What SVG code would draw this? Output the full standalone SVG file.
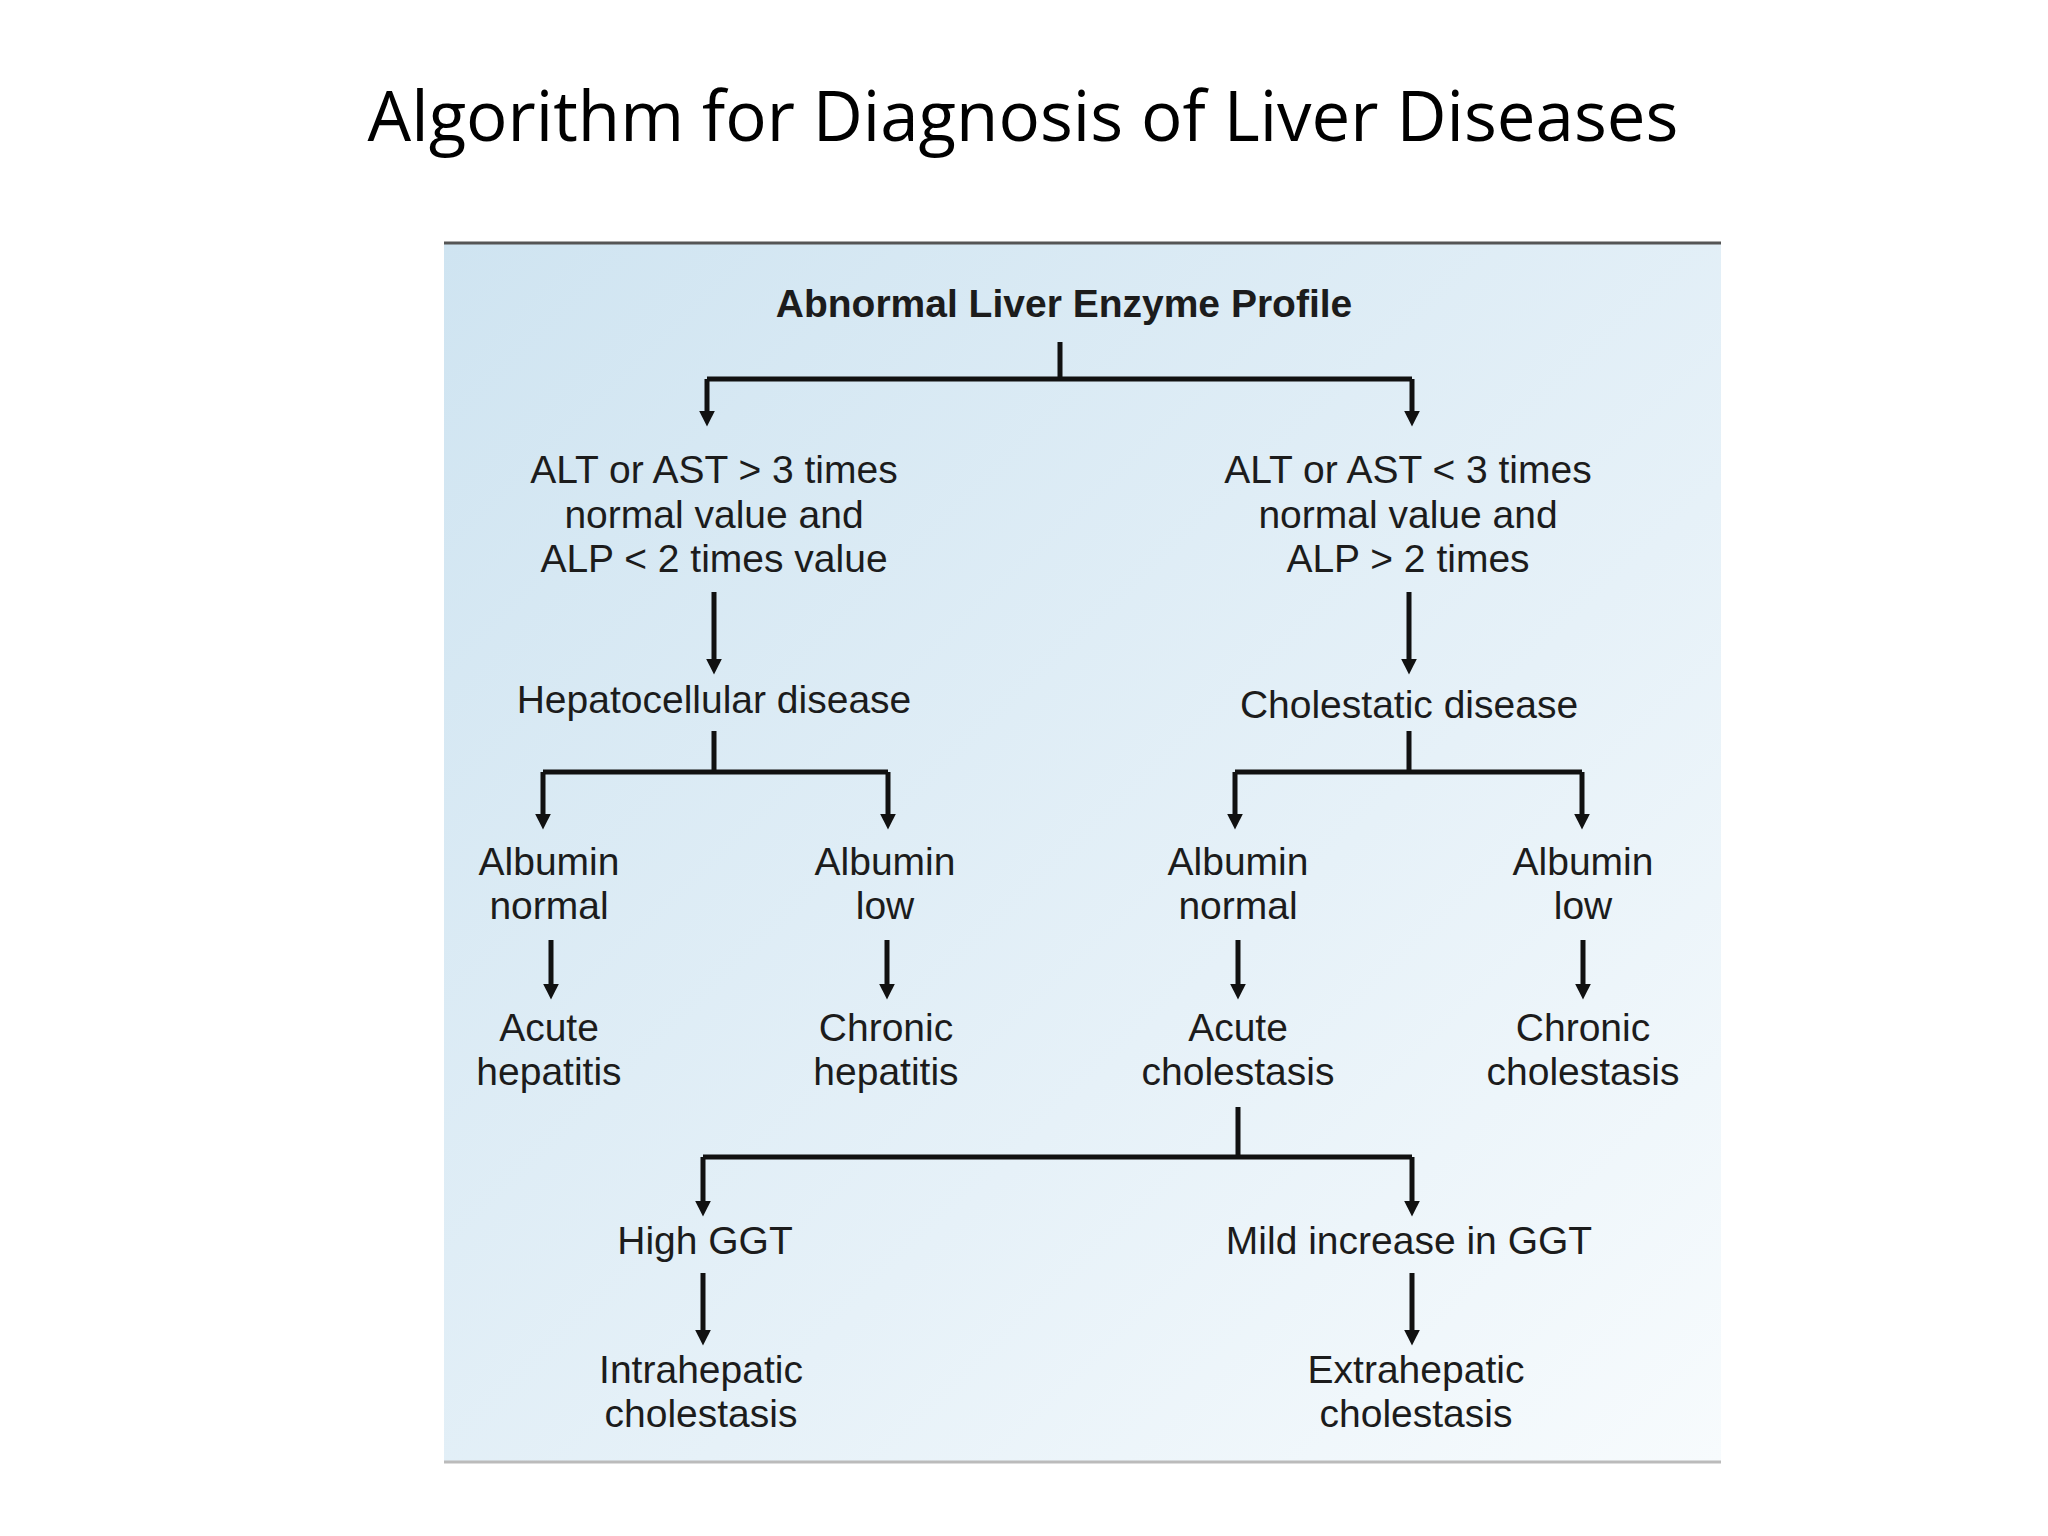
<svg xmlns="http://www.w3.org/2000/svg" width="2048" height="1536" viewBox="0 0 2048 1536">
<style>
.t{font-family:"Liberation Sans",Arial,sans-serif;font-size:39px;fill:#1c1c1c;text-anchor:middle}
.c{stroke:#111;stroke-width:5;fill:none}
.a{stroke:#111;stroke-width:5;fill:none;marker-end:url(#ah)}
</style>
<defs>
<linearGradient id="bg" x1="0" y1="0" x2="1" y2="1">
<stop offset="0" stop-color="#cfe4f1"/><stop offset="0.6" stop-color="#e6f1f8"/><stop offset="1" stop-color="#f7fbfd"/>
</linearGradient>
<marker id="ah" markerWidth="3.2" markerHeight="3.2" refX="2" refY="2.5" orient="auto" markerUnits="strokeWidth" viewBox="0 0 5 5">
<path d="M0,0 L5,2.5 L0,5 z" fill="#111"/>
</marker>
</defs>
<rect width="2048" height="1536" fill="#fff"/>
<text x="1023" y="141" font-family="'Open Sans','Liberation Sans',sans-serif" font-size="69" fill="#000" text-anchor="middle">Algorithm for Diagnosis of Liver Diseases</text>
<rect x="444" y="243" width="1277" height="1220" fill="url(#bg)"/>
<line x1="444" y1="243" x2="1721" y2="243" stroke="#555" stroke-width="3"/>
<line x1="444" y1="1462" x2="1721" y2="1462" stroke="#bbb" stroke-width="3"/>
<g id="connectors">
<path class="c" d="M1060,342V379M707,379H1412"/>
<path class="a" d="M707,379V417"/><path class="a" d="M1412,379V417"/>
<path class="a" d="M714,592V665"/><path class="a" d="M1409,592V665"/>
<path class="c" d="M714,731V772M543,772H888"/>
<path class="a" d="M543,772V820"/><path class="a" d="M888,772V820"/>
<path class="c" d="M1409,731V772M1235,772H1582"/>
<path class="a" d="M1235,772V820"/><path class="a" d="M1582,772V820"/>
<path class="a" d="M551,940V990"/><path class="a" d="M887,940V990"/><path class="a" d="M1238,940V990"/><path class="a" d="M1583,940V990"/>
<path class="c" d="M1238,1107V1157M703,1157H1412"/>
<path class="a" d="M703,1157V1207"/><path class="a" d="M1412,1157V1207"/>
<path class="a" d="M703,1273V1336"/><path class="a" d="M1412,1273V1336"/>
</g>
<g id="root"><text class="t" x="1064" y="317" font-weight="bold" font-size="35">Abnormal Liver Enzyme Profile</text></g>
<g id="left-crit"><text class="t" x="714" y="483">ALT or AST &gt; 3 times</text><text class="t" x="714" y="528">normal value and</text><text class="t" x="714" y="572">ALP &lt; 2 times value</text></g>
<g id="right-crit"><text class="t" x="1408" y="483">ALT or AST &lt; 3 times</text><text class="t" x="1408" y="528">normal value and</text><text class="t" x="1408" y="572">ALP &gt; 2 times</text></g>
<g id="hep"><text class="t" x="714" y="713">Hepatocellular disease</text></g>
<g id="chol"><text class="t" x="1409" y="718">Cholestatic disease</text></g>
<g id="alb1"><text class="t" x="549" y="875">Albumin</text><text class="t" x="549" y="919">normal</text></g>
<g id="alb2"><text class="t" x="885" y="875">Albumin</text><text class="t" x="885" y="919">low</text></g>
<g id="alb3"><text class="t" x="1238" y="875">Albumin</text><text class="t" x="1238" y="919">normal</text></g>
<g id="alb4"><text class="t" x="1583" y="875">Albumin</text><text class="t" x="1583" y="919">low</text></g>
<g id="ah1"><text class="t" x="549" y="1041">Acute</text><text class="t" x="549" y="1085">hepatitis</text></g>
<g id="ch1"><text class="t" x="886" y="1041">Chronic</text><text class="t" x="886" y="1085">hepatitis</text></g>
<g id="ac1"><text class="t" x="1238" y="1041">Acute</text><text class="t" x="1238" y="1085">cholestasis</text></g>
<g id="cc1"><text class="t" x="1583" y="1041">Chronic</text><text class="t" x="1583" y="1085">cholestasis</text></g>
<g id="ggt1"><text class="t" x="705" y="1254">High GGT</text></g>
<g id="ggt2"><text class="t" x="1409" y="1254">Mild increase in GGT</text></g>
<g id="intra"><text class="t" x="701" y="1383">Intrahepatic</text><text class="t" x="701" y="1427">cholestasis</text></g>
<g id="extra"><text class="t" x="1416" y="1383">Extrahepatic</text><text class="t" x="1416" y="1427">cholestasis</text></g>
</svg>
